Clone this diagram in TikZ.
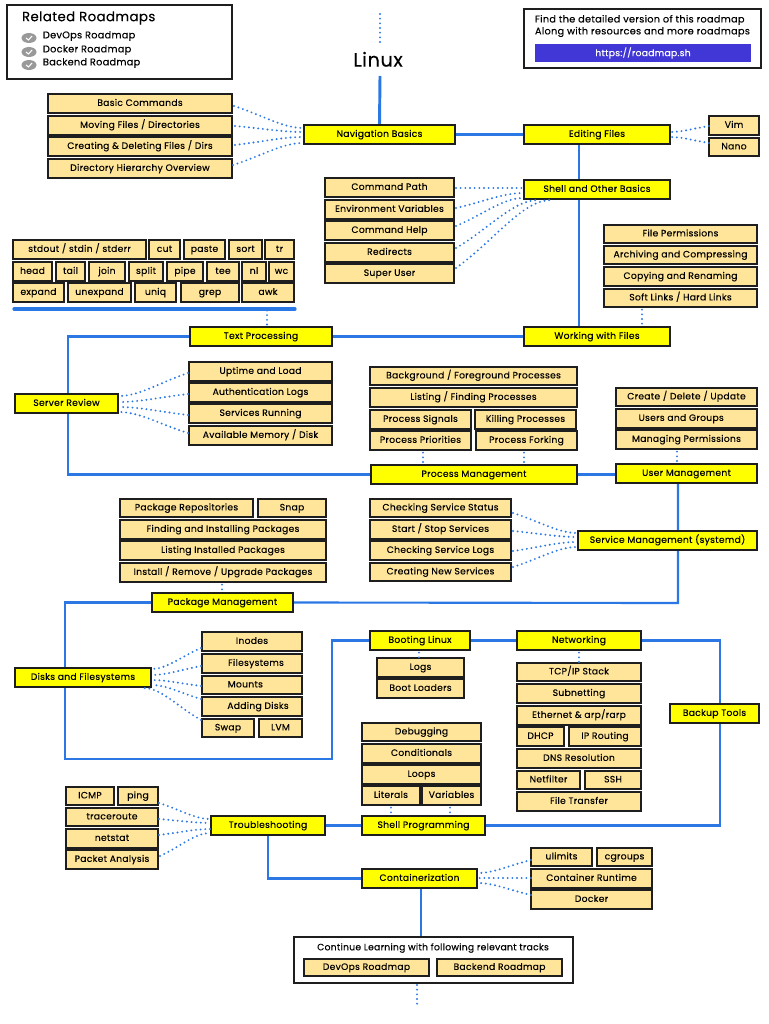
\documentclass[tikz,border=0pt]{standalone}
\usepackage{fontspec}
\setmainfont{Poppins}[FakeBold=0.25,LetterSpace=3]
\usetikzlibrary{calc,backgrounds}
\definecolor{lineblue}{HTML}{2B78E4}
\definecolor{subfill}{HTML}{FFE599}
\definecolor{hubfill}{HTML}{FFFF00}
\definecolor{edge}{HTML}{1E1E1E}
\definecolor{btn}{HTML}{4136D6}
\definecolor{chk}{HTML}{999999}
\tikzset{
  boxbase/.style={draw=edge,line width=1pt,inner sep=0pt,outer sep=0pt,align=center,font=\fontsize{6.9}{8}\selectfont,text height=5pt,text depth=1.4pt},
  sub/.style={boxbase,fill=subfill},
  hub/.style={boxbase,fill=hubfill},
  panel/.style={boxbase,fill=white},
  btnbox/.style={inner sep=0pt,outer sep=0pt,fill=btn,text=white,font=\fontsize{6.9}{8}\selectfont},
  plain/.style={inner sep=0pt,outer sep=0pt,font=\fontsize{7.3}{8}\selectfont},
  solid link/.style={draw=lineblue,line width=1.6pt},
  dot/.style={draw=lineblue,line width=1.6pt,line cap=round,dash pattern=on 0pt off 3.5pt},
}
\newcommand\bx[7][sub]{%
  \pgfmathsetmacro\cxv{(#3+#5)/2}\pgfmathsetmacro\cyv{(#4+#6)/2}%
  \node[#1,minimum width={(#5-#3)*0.75pt},minimum height={(#6-#4)*0.75pt}] (#2) at (\cxv,\cyv) {#7};}
\newcommand\fan[2]{%
  \coordinate (fa) at (#1);\coordinate (fb) at (#2);
  \coordinate (fc) at ($(fa)!.7!(fb)$);
  \draw[dot] (fa) .. controls ($(fa)!.4!(fb)$) and (fc |- fb) .. (fb);}
\newcommand\vd[3]{%
  \coordinate (vx) at (#1,0);
  \draw[dot] ([yshift=-2pt]vx |- #2.south) -- (vx |- #3.north);}
\begin{document}
\begin{tikzpicture}[x=0.75pt,y=-0.75pt]
\useasboundingbox (0,0) rectangle (768,1024);
% panels
\bx[panel]{rel}{7}{5}{232}{79}{}
\node[plain,anchor=west,font=\fontsize{10}{12}\selectfont] (relt) at (22,18) {Related Roadmaps};
\foreach \nm/\yy/\tx in {ra/36/DevOps Roadmap,rb/50/Docker Roadmap,rc/63/Backend Roadmap}{
  \node[plain,anchor=west] (\nm) at (43,\yy) {\tx};
  \fill[chk] (29,\yy+2) ellipse [x radius=7.5,y radius=5];
  \draw[white,line width=.8pt] (26,\yy+2) -- (28.5,\yy+4) -- (32,\yy);
}
\bx[panel]{find}{524}{9}{761}{68}{}
\node[plain,anchor=west] (fa1) at (535,20) {Find the detailed version of this roadmap};
\node[plain,anchor=west] (fa2) at (535,32) {Along with resources and more roadmaps};
\bx[btnbox]{site}{535}{44}{751}{62}{https://roadmap.sh}
\node[plain,font=\fontsize{14.5}{16}\selectfont,minimum height={31*0.75pt}] (linux) at (380,60.5) {\raisebox{1.9pt}{Linux}\kern3pt};
% hubs
\bx[hub]{nav}{304}{125}{455}{144}{Navigation Basics}
\bx[hub]{edit}{524}{125}{670}{144}{Editing Files}
\bx[hub]{shell}{524}{180}{670}{199}{Shell and Other Basics}
\bx[hub]{work}{524}{327}{670}{346}{Working with Files}
\bx[hub]{text}{190}{327}{332}{346}{Text Processing}
\bx[hub]{srv}{15}{394}{118}{413}{Server Review}
\bx[hub]{proc}{371}{465}{577}{484}{Process Management}
\bx[hub]{user}{616}{464}{757}{483}{User Management}
\bx[hub]{svc}{578}{531}{757}{550}{Service Management (systemd)}
\bx[hub]{pkg}{152}{593}{293}{612}{Package Management}
\bx[hub]{disk}{15}{668}{151}{687}{Disks and Filesystems}
\bx[hub]{boot}{370}{631}{470}{650}{Booting Linux}
\bx[hub]{net}{517}{631}{641}{650}{Networking}
\bx[hub]{bak}{670}{704}{759}{723}{Backup Tools}
\bx[hub]{prog}{362}{816}{485}{835}{Shell Programming}
\bx[hub]{trb}{211}{816}{325}{835}{Troubleshooting}
\bx[hub]{cont}{362}{869}{477}{888}{Containerization}
% subs
\bx{basic}{48}{94}{232}{113}{Basic Commands}
\bx{mov}{48}{116}{232}{135}{Moving Files / Directories}
\bx{crea}{48}{137}{232}{156}{Creating \& Deleting Files / Dirs}
\bx{dirh}{48}{159}{232}{178}{Directory Hierarchy Overview}
\bx{vim}{709}{116}{759}{135}{Vim}
\bx{nano}{709}{138}{759}{156}{Nano}
\bx{cpath}{325}{178}{454}{197}{Command Path}
\bx{envv}{325}{200}{454}{219}{Environment Variables}
\bx{chelp}{325}{221}{454}{240}{Command Help}
\bx{redi}{325}{243}{454}{262}{Redirects}
\bx{super}{325}{264}{454}{283}{Super User}
\bx{perm}{604}{225}{757}{243}{File Permissions}
\bx{arch}{604}{246}{757}{264}{Archiving and Compressing}
\bx{copy}{604}{267}{757}{286}{Copying and Renaming}
\bx{soft}{604}{289}{757}{307}{Soft Links / Hard Links}
\bx{stdo}{13}{240}{146}{259}{stdout / stdin / stderr}
\bx{cut}{149}{240}{180}{259}{cut}
\bx{paste}{184}{240}{225}{259}{paste}
\bx{sortb}{229}{240}{262}{259}{sort}
\bx{trb2}{265}{240}{294}{259}{tr}
\bx{head}{13}{262}{52}{281}{head}
\bx{tail}{56}{262}{85}{281}{tail}
\bx{join}{89}{262}{125}{281}{join}
\bx{split}{129}{262}{163}{281}{split}
\bx{pipeb}{167}{262}{203}{281}{pipe}
\bx{tee}{207}{262}{239}{281}{tee}
\bx{nl}{242}{262}{266}{281}{nl}
\bx{wc}{269}{262}{294}{281}{wc}
\bx{expa}{13}{283}{64}{302}{expand}
\bx{unex}{68}{283}{131}{302}{unexpand}
\bx{uniq}{135}{283}{176}{302}{uniq}
\bx{grep}{181}{283}{239}{302}{grep}
\bx{awk}{242}{283}{294}{302}{awk}
\bx{upt}{189}{362}{332}{381}{Uptime and Load}
\bx{auth}{189}{383}{332}{402}{Authentication Logs}
\bx{servr}{189}{404}{332}{423}{Services Running}
\bx{avail}{189}{426}{332}{445}{Available Memory / Disk}
\bx{bgfg}{370}{367}{577}{385}{Background / Foreground Processes}
\bx{listp}{370}{388}{577}{407}{Listing / Finding Processes}
\bx{sigs}{370}{410}{471}{429}{Process Signals}
\bx{kill}{475}{410}{576}{429}{Killing Processes}
\bx{prio}{370}{431}{471}{450}{Process Priorities}
\bx{fork}{476}{431}{577}{450}{Process Forking}
\bx{crud}{616}{388}{757}{406}{Create / Delete / Update}
\bx{ugrp}{616}{409}{757}{428}{Users and Groups\kern8pt}
\bx{mperm}{616}{430}{757}{449}{Managing Permissions}
\bx{sstat}{370}{499}{511}{517}{Checking Service Status}
\bx{sstop}{370}{520}{511}{539}{Start / Stop Services}
\bx{slogs}{370}{541}{511}{560}{Checking Service Logs}
\bx{snew}{370}{563}{511}{581}{Creating New Services}
\bx{repo}{120}{499}{253}{517}{Package Repositories}
\bx{snap}{258}{499}{326}{517}{Snap}
\bx{finst}{120}{520}{326}{539}{Finding and Installing Packages}
\bx{linst}{120}{541}{326}{560}{Listing Installed Packages}
\bx{irem}{120}{563}{326}{582}{Install / Remove / Upgrade Packages}
\bx{inod}{202}{632}{302}{651}{Inodes}
\bx{fsys}{202}{654}{302}{673}{\kern6pt Filesystems}
\bx{mnt}{202}{676}{302}{694}{Mounts\kern10pt}
\bx{addd}{202}{697}{302}{716}{\kern9pt Adding Disks}
\bx{swap}{202}{719}{254}{737}{Swap}
\bx{lvm}{259}{719}{302}{737}{LVM}
\bx{logs}{377}{658}{464}{677}{Logs}
\bx{bootl}{377}{679}{464}{698}{Boot Loaders}
\bx{tcp}{517}{663}{641}{681}{TCP/IP Stack}
\bx{subn}{517}{684}{641}{703}{Subnetting}
\bx{ethe}{517}{706}{641}{725}{Ethernet \& arp/rarp}
\bx{dhcp}{517}{727}{564}{746}{DHCP}
\bx{ipr}{569}{727}{641}{746}{IP Routing}
\bx{dns}{517}{749}{641}{768}{DNS Resolution}
\bx{nfil}{517}{771}{580}{789}{Netfilter}
\bx{ssh}{585}{771}{641}{789}{SSH}
\bx{ftra}{517}{792}{641}{811}{File Transfer}
\bx{debg}{362}{723}{481}{741}{Debugging}
\bx{cond}{362}{744}{481}{763}{Conditionals}
\bx{loop}{362}{765}{481}{784}{Loops}
\bx{lit}{362}{786}{420}{805}{Literals}
\bx{vars}{422}{786}{481}{805}{Variables}
\bx{icmp}{66}{787}{114}{805}{ICMP}
\bx{ping}{118}{787}{158}{805}{ping}
\bx{trac}{66}{808}{158}{826}{traceroute}
\bx{nets}{66}{829}{158}{848}{netstat}
\bx{pack}{66}{850}{158}{869}{Packet Analysis}
\bx{ulim}{531}{848}{592}{866}{ulimits}
\bx{cgrp}{597}{848}{652}{866}{cgroups}
\bx{crun}{531}{869}{652}{888}{Container Runtime}
\bx{dock}{531}{890}{652}{909}{Docker}
\bx[panel]{cont2}{294}{937}{573}{983}{}
\node[plain,font=\fontsize{6.9}{8}\selectfont] (cont2t) at (433,948) {Continue Learning with following relevant tracks};
\bx{devr}{304}{959}{429}{976}{DevOps Roadmap}
\bx{backr}{437}{959}{562}{976}{Backend Roadmap}
% connectors
\coordinate (t0) at (380,14);
\coordinate (c1) at (68,400);
\coordinate (j0) at (579,300);
\coordinate (j1) at (678,603);
\coordinate (c2) at (65,759);
\coordinate (c3) at (332,759);
\coordinate (c4) at (720,825.5);
\coordinate (c5) at (268,878.5);
\coordinate (j2) at (421,900);
\coordinate (bl) at (14,309);
\coordinate (br) at (295,309);
\coordinate (bm) at (267,310.5);
\coordinate (e0) at (417,1006);
\coordinate (e1) at (417,985);
\begin{pgfonlayer}{background}
\fill[white] (0,0) rectangle (768,1024);
\draw[solid link,line width=2.2pt] (linux.south) -- (nav.north);
\draw[solid link] (nav.east) -- (edit.west);
\draw[solid link,line width=2pt] (j0 |- edit.south) -- (j0 |- shell.north);
\draw[solid link,line width=2pt] (j0 |- shell.south) -- (j0 |- work.north);
\draw[solid link] (work.west) -- (text.east);
\draw[solid link] (text.west) -| (c1) |- (proc.west);
\draw[solid link] (proc.east) -- (user.west |- proc.east);
\draw[solid link] (j1 |- user.south) -- (j1) -- (pkg.east);
\draw[solid link] (pkg.west) -| (c2) -- (c3) |- (boot.west);
\draw[solid link] (boot.east) -- (net.west);
\draw[solid link] (net.east) -| (c4) -- (prog.east);
\draw[solid link] (prog.west) -- (trb.east);
\draw[solid link] (c5 |- trb.south) -- (c5) -- (cont.west);
\draw[solid link,line width=2pt] (j2 |- cont.south) -- (j2 |- cont2.north);
\draw[solid link,line width=2.4pt,line cap=round] (bl) -- (br);
\draw[dot] (t0) -- (linux.north);
\draw[dot] (bm) -- (bm |- text.north);
\draw[dot] (e1) -- (e0);
\end{pgfonlayer}
\fan{234,106}{303,128}
\fan{235,126}{303,132}
\fan{235,145}{303,137}
\fan{233,165}{303,143}
\fan{709,126}{671,132}
\fan{709,143}{671,137}
\fan{456,188}{523,188}
\fan{456,208}{523,193}
\fan{456,226}{523,198}
\fan{456,248}{538,200}
\fan{456,268}{551,200}
\fan{188,373}{119,396}
\fan{188,394}{119,402}
\fan{188,415}{119,407}
\fan{188,433}{119,412}
\fan{513,513}{577,533}
\fan{513,531}{577,537}
\fan{513,551}{577,542}
\fan{513,567}{577,547}
\fan{201,648}{152,669}
\fan{201,666}{152,675}
\fan{201,686}{152,680}
\fan{201,699}{152,685}
\fan{201,720}{144,688}
\fan{159,803}{210,819}
\fan{159,819}{210,823}
\fan{159,835}{210,829}
\fan{160,856}{210,833}
\fan{531,860}{478,873}
\fan{531,878}{478,878}
\fan{531,895}{478,883}
\vd{642}{soft}{work}
\vd{423}{prio}{proc}
\vd{524}{fork}{proc}
\vd{677}{mperm}{user}
\vd{222}{irem}{pkg}
\vd{419}{boot}{logs}
\vd{579}{net}{tcp}
\vd{391}{lit}{prog}
\vd{450}{vars}{prog}
\end{tikzpicture}
\end{document}
